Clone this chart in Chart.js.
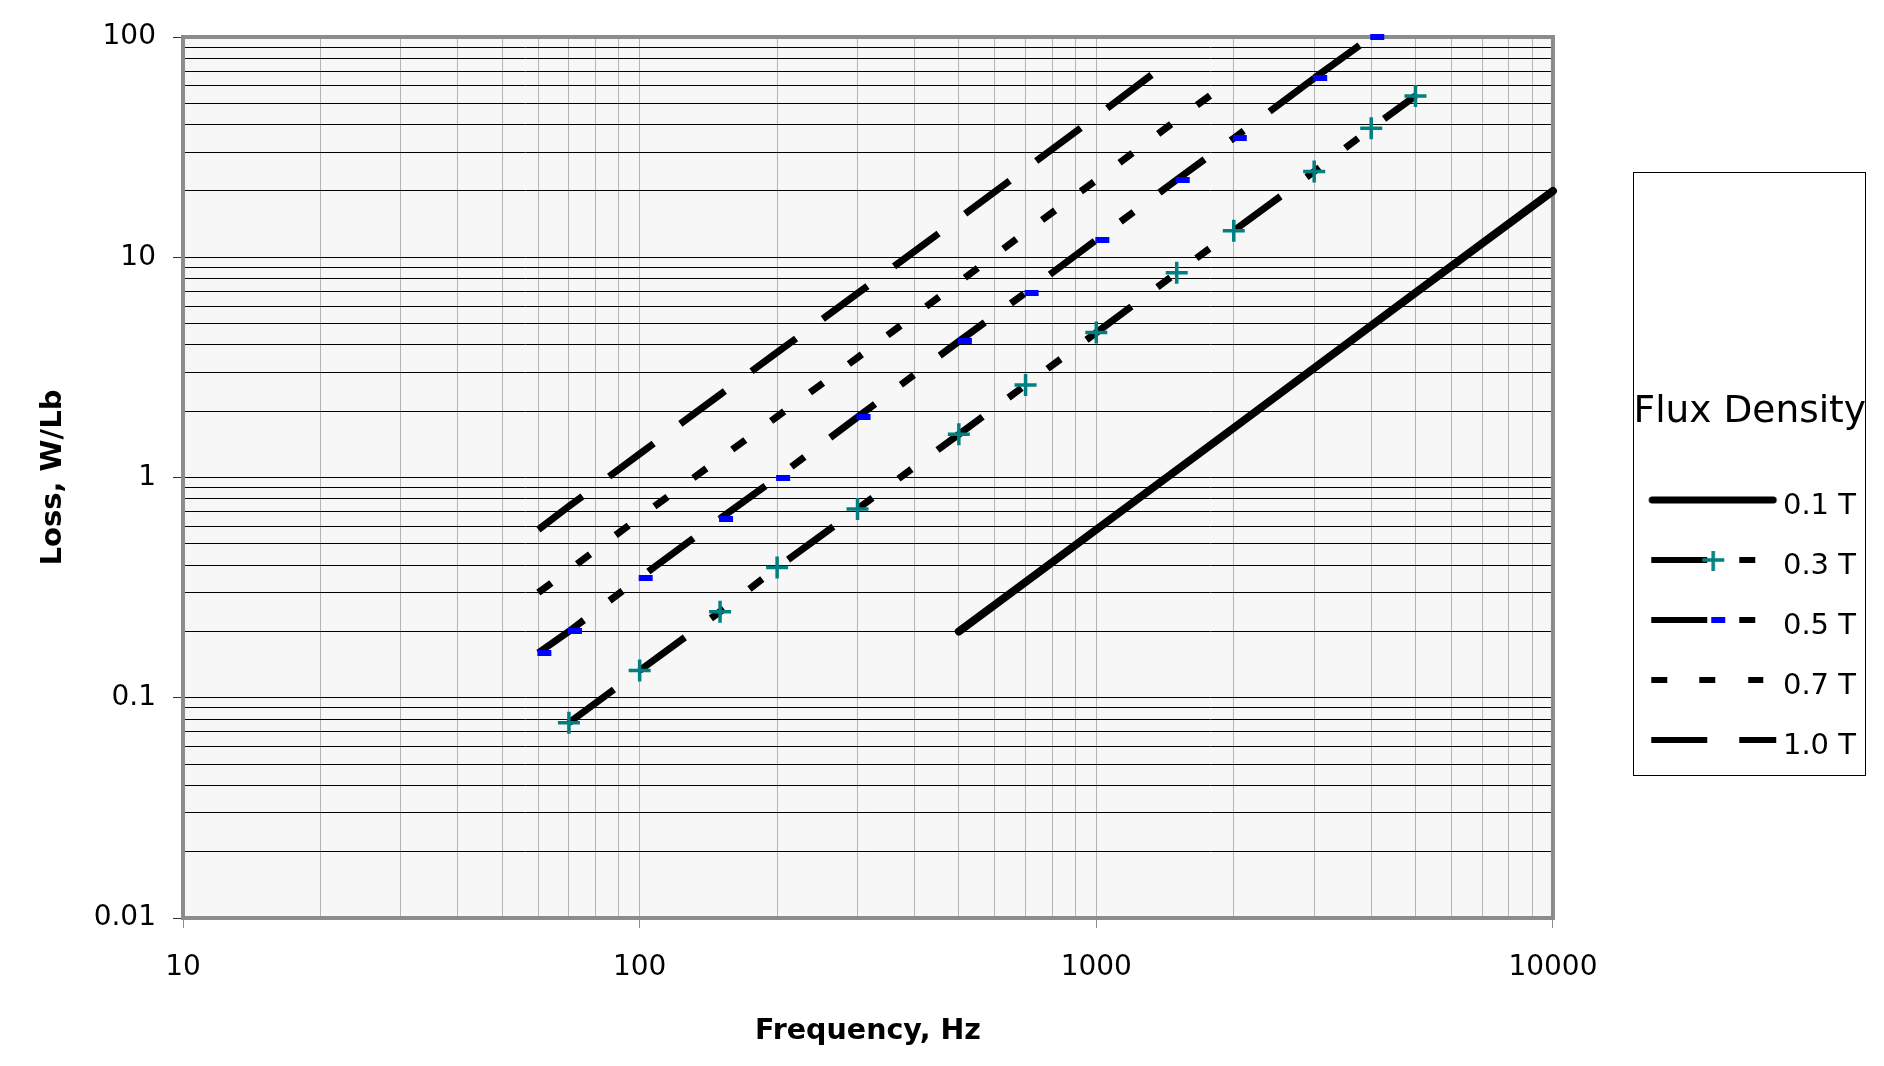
<!DOCTYPE html>
<html>
<head>
<meta charset="utf-8">
<script src="https://cdn.jsdelivr.net/npm/chart.js@4/dist/chart.umd.min.js"></script>
<style>
  html, body { margin: 0; padding: 0; background: #ffffff; }
  canvas { display: block; }
</style>
</head>
<body>
<canvas id="chart" width="1884" height="1066"></canvas>
<script>
// ---------- data ----------
const seriesNames = ['0.1 T', '0.3 T', '0.5 T', '0.7 T', '1.0 T'];

const freq01 = [500, 1000, 2000, 5000, 10000];
const loss01 = [0.2, 0.58, 1.68, 6.9, 20];

const freq03 = [70, 100, 150, 200, 300, 500, 700, 1000, 1500, 2000, 3000, 4000, 5000];
const loss03 = [0.077, 0.133, 0.246, 0.39, 0.72, 1.57, 2.63, 4.55, 8.5, 13.2, 24.5, 38.5, 54];

const freq05 = [60, 70, 100, 150, 200, 300, 500, 700, 1000, 1500, 2000, 3000, 4000];
const loss05 = [0.16, 0.2, 0.35, 0.65, 1.0, 1.88, 4.15, 6.9, 12, 22.5, 34.7, 65, 100];

const freq07 = [60, 70, 100, 150, 200, 300, 500, 700, 1000, 1500, 2000];
const loss07 = [0.3, 0.38, 0.66, 1.22, 1.89, 3.5, 7.7, 13, 22.4, 42, 65];

const freq10 = [60, 70, 100, 150, 200, 300, 500, 700, 1000, 1500];
const loss10 = [0.58, 0.74, 1.28, 2.38, 3.7, 6.85, 15, 25.2, 43.6, 82];

const xTickValues = [10, 100, 1000, 10000];
const xTickLabels = ['10', '100', '1000', '10000'];
const yTickValues = [0.01, 0.1, 1, 10, 100];
const yTickLabels = ['0.01', '0.1', '1', '10', '100'];

const xTitle = 'Frequency, Hz';
const yTitle = 'Loss, W/Lb';
const legendTitle = 'Flux Density';

// ---------- helpers ----------
const pts = (xs, ys) => xs.map((x, i) => ({ x: x, y: ys[i] }));
const sameVal = (a, b) => Math.abs(a / b - 1) < 1e-9;

// grid ticks at 1..9 x every decade, majors flagged
function logTicks(majors) {
  const out = [];
  for (let d = 0; d < majors.length - 1; d++) {
    for (let k = 1; k <= 9; k++) {
      const v = +(majors[d] * k).toPrecision(8);
      out.push({ value: v, major: k === 1 });
    }
  }
  out.push({ value: majors[majors.length - 1], major: true });
  return out;
}
function labelFor(values, labels) {
  return function (value) {
    const i = values.findIndex(m => sameVal(value, m));
    return i >= 0 ? labels[i] : '';
  };
}

// dash restarts at given point indices (style change splits the path)
function dashRestart(resetIdx, period) {
  return ctx => (resetIdx.filter(r => r <= ctx.p0DataIndex).length % 2) * period;
}
const sum = a => a.reduce((s, v) => s + v, 0);

const DASH_DD = [56, 32.3, 16.2, 32.3, 16.2, 32.3];   // 0.3 T
const DASH_D = [56, 32.3, 16.2, 32.3];                // 0.5 T
const DASH_SHORT = [16.2, 32];                        // 0.7 T
const DASH_LONG = [55.4, 33.1];                       // 1.0 T

const TEAL = '#008080';
const BLUE = '#0000ff';

// blue dash marker (drawn to the right of the point, like the original)
function makeDashMarker() {
  const c = document.createElement('canvas');
  c.width = 28; c.height = 6;
  const g = c.getContext('2d');
  g.fillStyle = BLUE;
  g.fillRect(13, 0, 14, 6);
  return c;
}
const dashMarker = makeDashMarker();

// legend samples
function sample(draw) {
  const c = document.createElement('canvas');
  c.width = 210; c.height = 30;
  const g = c.getContext('2d');
  g.strokeStyle = '#000';
  g.lineWidth = 6;
  g.lineCap = 'butt';
  draw(g);
  return c;
}
function seg(g, a, b, y) { g.beginPath(); g.moveTo(a, y); g.lineTo(b, y); g.stroke(); }
const LY = 9;
const legendSamples = [
  sample(g => { g.lineWidth = 7; g.lineCap = 'round'; seg(g, 81, 202, LY); }),
  sample(g => {
    seg(g, 80, 136, LY); seg(g, 168, 184, LY);
    g.strokeStyle = TEAL; g.lineWidth = 3.5;
    seg(g, 131, 153, LY);
    g.beginPath(); g.moveTo(142, LY - 11); g.lineTo(142, LY + 11); g.stroke();
  }),
  sample(g => {
    seg(g, 80, 136, LY); seg(g, 168, 184, LY);
    g.fillStyle = BLUE; g.fillRect(140, LY - 3, 14, 6);
  }),
  sample(g => { seg(g, 80, 96, LY); seg(g, 128, 144, LY); seg(g, 177, 192, LY); }),
  sample(g => { seg(g, 80, 136, LY); seg(g, 168, 205, LY); })
];

// plot background, frame and legend box
const framePlugin = {
  id: 'framePlugin',
  beforeDraw(chart) {
    const { ctx, chartArea: a } = chart;
    ctx.save();
    ctx.fillStyle = '#ffffff';
    ctx.fillRect(0, 0, chart.width, chart.height);
    ctx.fillStyle = '#f7f7f7';
    ctx.fillRect(a.left, a.top, a.right - a.left, a.bottom - a.top);
    const l = chart.legend;
    ctx.strokeStyle = '#000';
    ctx.lineWidth = 1;
    ctx.strokeRect(Math.round(l.left + 80) + 0.5, Math.round(l.top + 135) + 0.5, 232, 603);
    ctx.restore();
  },
  beforeDatasetsDraw(chart) {
    const { ctx, chartArea: a } = chart;
    ctx.save();
    ctx.strokeStyle = '#8c8c8c';
    ctx.lineWidth = 4;
    ctx.strokeRect(a.left, a.top, a.right - a.left, a.bottom - a.top);
    ctx.restore();
  }
};

Chart.defaults.font.family = "'DejaVu Sans', sans-serif";
Chart.defaults.color = '#000';

new Chart(document.getElementById('chart'), {
  type: 'line',
  data: {
    datasets: [
      {
        label: seriesNames[0], data: pts(freq01, loss01),
        borderColor: '#000', borderWidth: 8, borderCapStyle: 'round', borderJoinStyle: 'round',
        pointRadius: 0, fill: false, clip: false
      },
      {
        label: seriesNames[1], data: pts(freq03, loss03),
        borderColor: '#000', borderWidth: 7, borderCapStyle: 'butt', borderDash: DASH_DD,
        segment: { borderDash: DASH_DD, borderDashOffset: dashRestart([1], sum(DASH_DD)) },
        pointStyle: 'cross', pointRadius: 11, pointBorderWidth: 3.5,
        pointBorderColor: TEAL, pointBackgroundColor: TEAL, fill: false, clip: false
      },
      {
        label: seriesNames[2], data: pts(freq05, loss05),
        borderColor: '#000', borderWidth: 7, borderCapStyle: 'butt', borderDash: DASH_D,
        segment: { borderDash: DASH_D, borderDashOffset: dashRestart([3, 11], sum(DASH_D)) },
        pointStyle: dashMarker, pointRadius: 7, fill: false, clip: false
      },
      {
        label: seriesNames[3], data: pts(freq07, loss07),
        borderColor: '#000', borderWidth: 7, borderCapStyle: 'butt', borderDash: DASH_SHORT,
        pointRadius: 0, fill: false, clip: false
      },
      {
        label: seriesNames[4], data: pts(freq10, loss10),
        borderColor: '#000', borderWidth: 7, borderCapStyle: 'butt', borderDash: DASH_LONG,
        pointRadius: 0, fill: false, clip: false
      }
    ]
  },
  options: {
    responsive: false,
    animation: false,
    devicePixelRatio: 1,
    events: [],
    layout: { padding: { top: 37, right: 18, bottom: 0, left: 0 } },
    scales: {
      x: {
        type: 'logarithmic', position: 'bottom', min: 10, max: 10000,
        afterBuildTicks: s => { s.ticks = logTicks(xTickValues); },
        afterFit: s => { s.height = 148; },
        ticks: {
          autoSkip: false, maxRotation: 0, minRotation: 0, padding: 23,
          color: '#000', font: { size: 28 },
          callback: labelFor(xTickValues, xTickLabels)
        },
        grid: {
          color: '#b4b4b4', lineWidth: 1, tickLength: 10, tickWidth: 1,
          tickColor: c => (c.tick && c.tick.major) ? '#8c8c8c' : 'rgba(0,0,0,0)'
        },
        border: { display: false },
        title: {
          display: true, text: xTitle, color: '#000',
          font: { size: 28.5, weight: 'bold' }, padding: { top: 0, bottom: 17 }
        }
      },
      y: {
        type: 'logarithmic', position: 'left', min: 0.01, max: 100,
        afterBuildTicks: s => { s.ticks = logTicks(yTickValues); },
        afterFit: s => { s.width = 183; },
        ticks: {
          autoSkip: false, padding: 17, color: '#000', font: { size: 28 },
          callback: labelFor(yTickValues, yTickLabels)
        },
        grid: {
          color: '#000', lineWidth: 1, tickLength: 10, tickWidth: 1,
          tickColor: c => (c.tick && c.tick.major) ? '#333' : 'rgba(0,0,0,0)'
        },
        border: { display: false },
        title: {
          display: true, text: yTitle, color: '#000',
          font: { size: 29, weight: 'bold' }, padding: { top: 36, bottom: 0 }
        }
      }
    },
    plugins: {
      tooltip: { enabled: false },
      legend: {
        position: 'right', align: 'start',
        title: {
          display: true, text: legendTitle, position: 'end', color: '#000',
          font: { size: 37.5, lineHeight: 1.2 }, padding: { top: 356.5, bottom: 22 }
        },
        labels: {
          usePointStyle: true, pointStyleWidth: 184.5, padding: 31,
          color: '#000', font: { size: 29 },
          generateLabels: chart => chart.data.datasets.map((ds, i) => ({
            text: ds.label, pointStyle: legendSamples[i], fontColor: '#000',
            datasetIndex: i, hidden: false, lineWidth: 0,
            strokeStyle: 'rgba(0,0,0,0)', fillStyle: 'rgba(0,0,0,0)'
          }))
        }
      }
    }
  },
  plugins: [framePlugin]
});
</script>
</body>
</html>
